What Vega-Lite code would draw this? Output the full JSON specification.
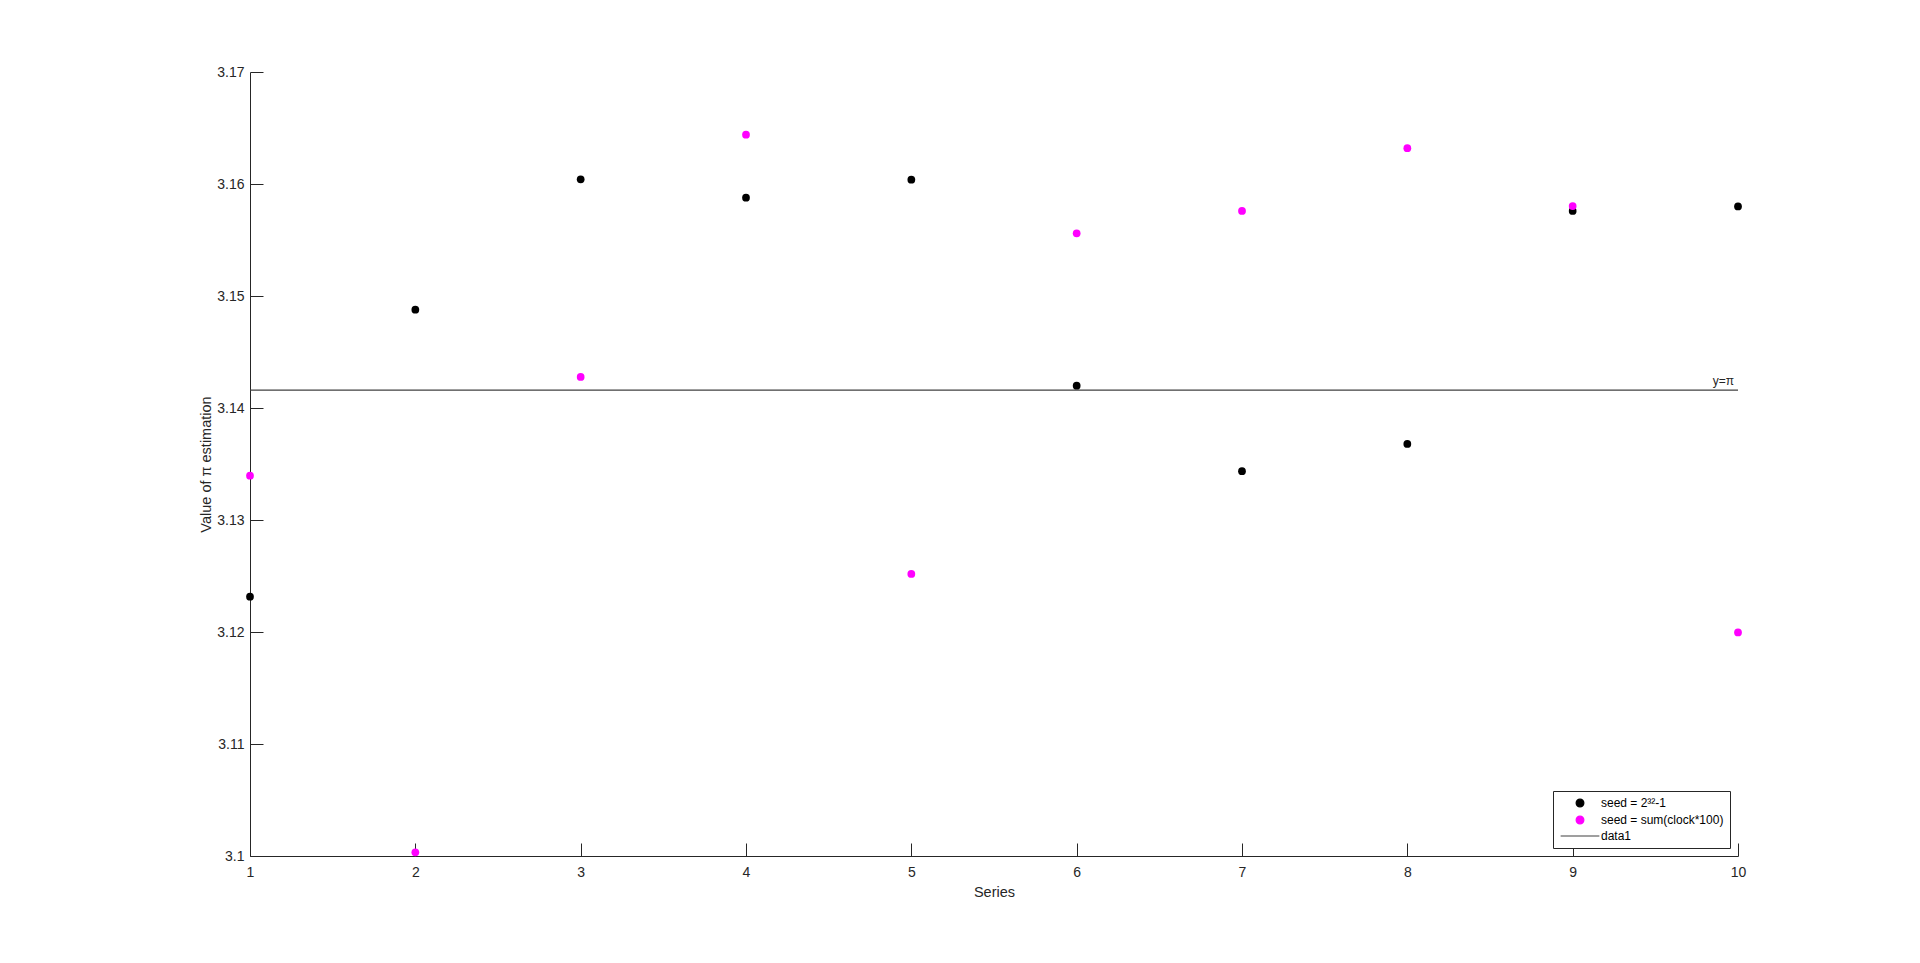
{
  "$schema": "https://vega.github.io/schema/vega-lite/v6.json",
  "width": 1488,
  "height": 784,
  "autosize": {"type": "none"},
  "padding": {"left": 250, "top": 72, "right": 182, "bottom": 107},
  "background": "white",
  "datasets": {
    "estimates": [
      {"series": "seed = 2³²-1", "run": 1, "pi": 3.12315},
      {"series": "seed = 2³²-1", "run": 2, "pi": 3.14878},
      {"series": "seed = 2³²-1", "run": 3, "pi": 3.16042},
      {"series": "seed = 2³²-1", "run": 4, "pi": 3.15878},
      {"series": "seed = 2³²-1", "run": 5, "pi": 3.16038},
      {"series": "seed = 2³²-1", "run": 6, "pi": 3.14199},
      {"series": "seed = 2³²-1", "run": 7, "pi": 3.13436},
      {"series": "seed = 2³²-1", "run": 8, "pi": 3.13679},
      {"series": "seed = 2³²-1", "run": 9, "pi": 3.1576},
      {"series": "seed = 2³²-1", "run": 10, "pi": 3.158},
      {"series": "seed = sum(clock*100)", "run": 1, "pi": 3.13396},
      {"series": "seed = sum(clock*100)", "run": 2, "pi": 3.10033},
      {"series": "seed = sum(clock*100)", "run": 3, "pi": 3.14277},
      {"series": "seed = sum(clock*100)", "run": 4, "pi": 3.1644},
      {"series": "seed = sum(clock*100)", "run": 5, "pi": 3.12518},
      {"series": "seed = sum(clock*100)", "run": 6, "pi": 3.1556},
      {"series": "seed = sum(clock*100)", "run": 7, "pi": 3.15759},
      {"series": "seed = sum(clock*100)", "run": 8, "pi": 3.1632},
      {"series": "seed = sum(clock*100)", "run": 9, "pi": 3.15803},
      {"series": "seed = sum(clock*100)", "run": 10, "pi": 3.11996}
    ],
    "piline": [
      {"series": "data1", "run": 1, "run_end": 10, "pi": 3.14159, "label": "y=π"}
    ]
  },
  "config": {
    "font": "Liberation Sans",
    "view": {"stroke": null},
    "axis": {
      "grid": false,
      "domainColor": "#262626",
      "domainWidth": 1,
      "tickColor": "#262626",
      "tickWidth": 1,
      "tickSize": -13,
      "labelColor": "#262626",
      "labelFontSize": 14,
      "labelFlush": false,
      "titleColor": "#262626",
      "titleFontSize": 14.5,
      "titleFontWeight": "normal"
    },
    "legend": {
      "labelFontSize": 12,
      "labelColor": "#000000",
      "fillColor": "white",
      "strokeColor": "#262626",
      "padding": 6,
      "rowPadding": 3,
      "symbolSize": 60,
      "symbolOffset": 15,
      "labelOffset": 15
    }
  },
  "encoding": {
    "x": {
      "field": "run",
      "type": "quantitative",
      "scale": {"domain": [1, 10], "nice": false, "zero": false},
      "axis": {
        "title": "Series",
        "values": [1, 2, 3, 4, 5, 6, 7, 8, 9, 10],
        "format": "d",
        "labelPadding": 22,
        "titlePadding": 6
      }
    },
    "y": {
      "field": "pi",
      "type": "quantitative",
      "scale": {"domain": [3.1, 3.17], "nice": false, "zero": false},
      "axis": {
        "title": "Value of π estimation",
        "values": [3.1, 3.11, 3.12, 3.13, 3.14, 3.15, 3.16, 3.17],
        "format": ".2~f",
        "labelPadding": 19,
        "titlePadding": 3
      }
    },
    "color": {
      "field": "series",
      "type": "nominal",
      "scale": {
        "domain": ["seed = 2³²-1", "seed = sum(clock*100)", "data1"],
        "range": ["#000000", "#ff00ff", "#404040"]
      },
      "legend": {
        "title": null,
        "orient": "none",
        "legendX": 1303,
        "legendY": 719,
        "encode": {
          "symbols": {
            "update": {
              "shape": {"signal": "datum.value === 'data1' ? 'M-5,0L5,0' : 'circle'"},
              "fill": {"signal": "datum.value === 'data1' ? 'transparent' : scale('color', datum.value)"},
              "stroke": {"signal": "scale('color', datum.value)"},
              "strokeWidth": {"value": 1.2},
              "opacity": {"value": 1}
            }
          }
        }
      }
    }
  },
  "layer": [
    {
      "data": {"name": "piline"},
      "mark": {"type": "rule", "strokeWidth": 1.3},
      "encoding": {
        "x2": {"field": "run_end"}
      }
    },
    {
      "data": {"name": "piline"},
      "mark": {"type": "text", "align": "right", "baseline": "bottom", "dx": -4, "dy": -2, "fontSize": 12, "color": "#262626"},
      "encoding": {
        "x": {"field": "run_end", "type": "quantitative"},
        "text": {"field": "label"},
        "color": {"value": "#262626"}
      }
    },
    {
      "data": {"name": "estimates"},
      "mark": {"type": "point", "filled": true, "shape": "circle", "size": 60, "opacity": 1}
    }
  ]
}
